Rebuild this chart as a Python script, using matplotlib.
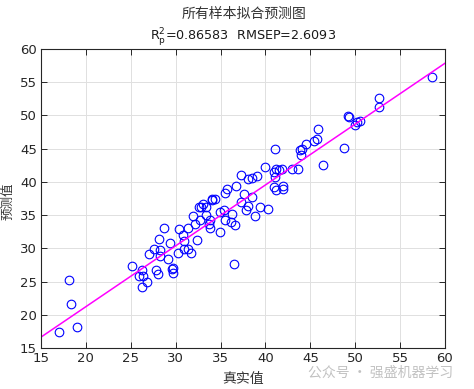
import numpy as np
import matplotlib
matplotlib.use('Agg')
import matplotlib.pyplot as plt

# 真实值 / 预测值
y_true = [17.0, 18.1, 18.3, 19.0, 25.1, 26.3, 25.9, 26.4, 26.2, 26.8,
          27.8, 28.0, 27.0, 27.6, 28.2, 28.2, 28.1, 28.7, 29.1, 29.4,
          29.6, 29.7, 29.7, 30.3, 30.4, 30.8, 30.9, 30.9, 31.4, 31.7,
          31.4, 31.9, 32.4, 32.6, 32.8, 33.0, 32.1, 32.7, 33.4, 33.4,
          33.7, 33.8, 33.8, 34.0, 34.4, 34.9, 34.9, 35.4, 35.5, 35.5,
          35.7, 36.2, 36.3, 36.6, 36.5, 36.7, 37.3, 37.6, 37.8, 38.1,
          37.3, 38.1, 34.1, 38.5, 39.1, 39.9, 41.1, 40.9, 41.2, 41.5,
          41.8, 41.1, 40.9, 41.2, 42.0, 42.0, 43.0, 43.6, 43.9, 44.0,
          44.1, 44.5, 45.4, 45.7, 45.8, 46.4, 48.8, 49.2, 49.3, 50.0,
          50.2, 50.5, 52.7, 52.7, 58.6, 38.5, 38.8, 39.4, 40.3]
y_pred = [17.4, 25.3, 21.6, 18.2, 27.4, 26.7, 25.8, 25.8, 24.2, 25.0,
          26.7, 26.2, 29.2, 29.9, 29.7, 28.8, 31.4, 33.1, 28.4, 30.8,
          26.9, 27.1, 26.3, 29.3, 32.9, 32.0, 31.1, 29.9, 29.9, 29.3,
          33.0, 34.8, 31.3, 36.2, 36.2, 36.7, 33.7, 34.2, 35.0, 36.2,
          33.7, 33.1, 34.2, 37.2, 37.4, 32.5, 35.4, 35.7, 38.3, 34.2,
          38.9, 33.9, 35.1, 33.5, 27.6, 39.4, 36.9, 38.2, 35.8, 36.3,
          41.0, 40.5, 37.5, 40.6, 40.9, 42.2, 45.0, 41.5, 42.0, 41.8,
          42.0, 40.8, 39.3, 38.8, 39.4, 38.9, 41.9, 42.0, 44.8, 44.0,
          45.0, 45.7, 46.1, 46.5, 47.9, 42.6, 45.1, 49.9, 49.8, 48.5,
          49.0, 49.2, 52.6, 51.3, 55.8, 37.8, 34.9, 36.2, 35.9]

# fitted line (slope / intercept)
fit_slope = 0.916
fit_intercept = 2.9
x_range = [15, 60]

r2p = '0.86583'
rmsep = '2.6093'

plt.rcParams['font.family'] = ['DejaVu Sans', 'Noto Sans CJK SC']
plt.rcParams['mathtext.fontset'] = 'dejavusans'

fig = plt.figure(figsize=(4.74, 3.89), dpi=100)
ax = fig.add_axes([0.0865, 0.1054, 0.8523, 0.7686])

ax.plot(y_true, y_pred, 'o', mfc='none', mec='#0000ff', ms=6.2, mew=0.8)
xl = np.array(x_range, dtype=float)
ax.plot(xl, fit_slope * xl + fit_intercept, color='#ff00ff', lw=1.1)

ax.set_xlim(15, 60)
ax.set_ylim(15, 60)
ax.set_xticks(np.arange(15, 61, 5))
ax.set_yticks(np.arange(15, 61, 5))
ax.grid(True, color='#e0e0e0', lw=0.7)
ax.tick_params(direction='in', top=True, right=True, length=4, width=0.7,
               labelsize=9.5, colors='#262626', pad=3)
for s in ax.spines.values():
    s.set_color('#262626')
    s.set_linewidth(0.8)

cjk = ['Noto Sans CJK SC', 'DejaVu Sans']
ax.set_xlabel('真实值', family=cjk, fontsize=10, color='#333333', labelpad=5)
ax.set_ylabel('预测值', family=cjk, fontsize=9, color='#333333', va='center')
ax.yaxis.set_label_coords(-0.082, 0.49)

fig.text(0.515, 0.963, '所有样本拟合预测图', family=cjk, fontsize=10,
         ha='center', va='center', color='#333333')
fig.text(0.513, 0.905, r'$\mathregular{R_p^2}$=' + r2p + '  RMSEP=' + rmsep,
         fontsize=9.2, ha='center', va='center', color='#1a1a1a')

# watermark
fig.text(0.955, 0.025, '公众号 · 强盛机器学习', family=cjk, fontsize=10,
         ha='right', va='bottom', color='#bbbbbb', alpha=0.9)

fig.savefig('out.png', dpi=100)
